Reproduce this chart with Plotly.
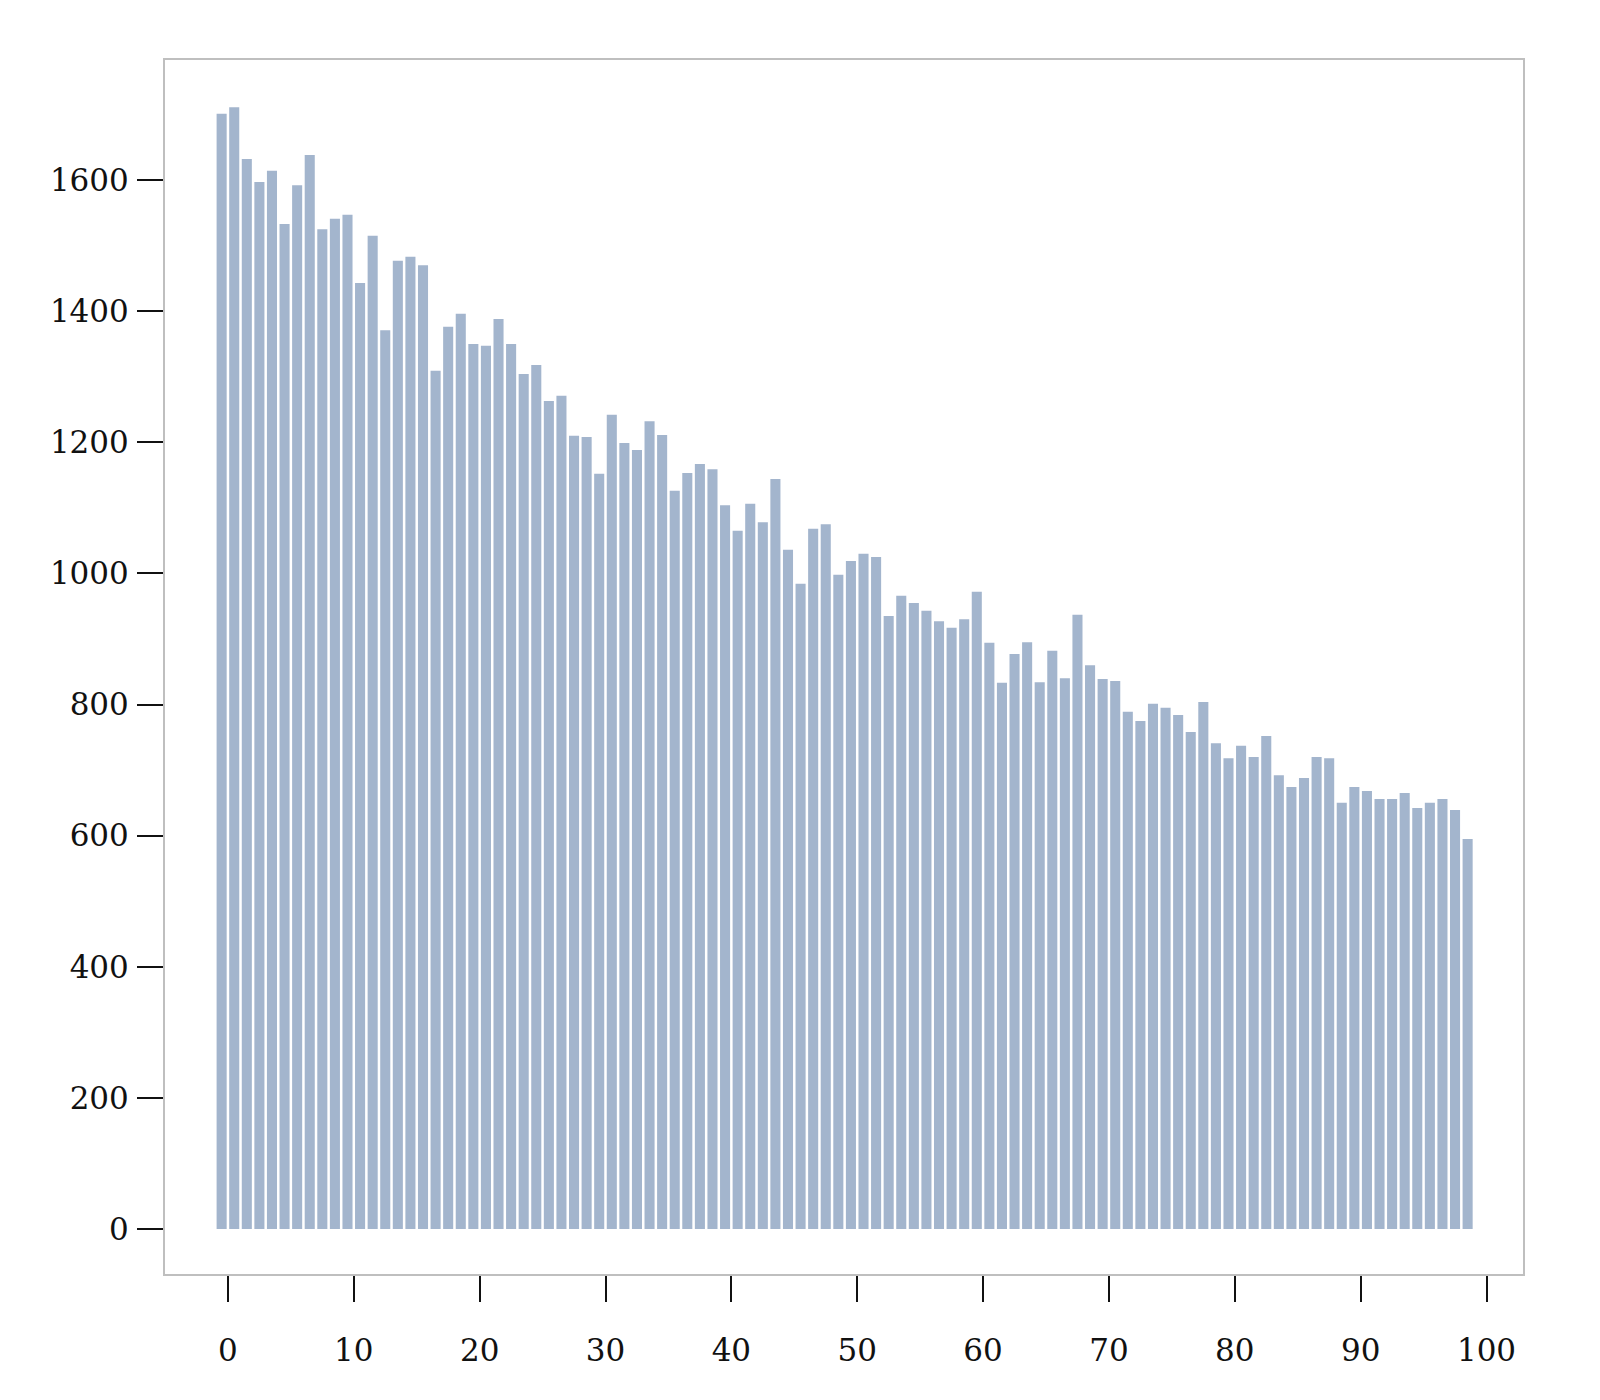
import plotly.graph_objects as go

values = [1701,1711,1632,1597,1614,1533,1592,1638,1525,1541,
          1547,1443,1515,1371,1477,1483,1470,1309,1376,1396,
          1350,1347,1388,1350,1304,1318,1263,1271,1210,1208,
          1152,1242,1199,1188,1232,1211,1126,1153,1167,1159,
          1104,1065,1106,1078,1144,1036,984,1068,1075,998,
          1019,1030,1025,935,966,955,943,927,917,930,
          972,894,833,877,895,834,882,840,937,860,
          839,836,789,775,801,795,784,758,804,741,
          718,737,720,752,692,674,688,720,718,650,
          674,668,656,656,665,642,650,656,639,595]
positions = list(range(len(values)))
xticks = list(range(0, 101, 10))
yticks = list(range(0, 1601, 200))

fig = go.Figure(go.Bar(x=positions, y=values, width=0.8, offset=-0.9,
                       marker=dict(color="#a3b5cd", line=dict(width=0))))
font = dict(family="DejaVu Serif", size=31, color="#111")
fig.update_layout(
    width=1600, height=1400, plot_bgcolor="white", paper_bgcolor="white",
    margin=dict(l=157, r=85, t=52, b=134), showlegend=False, font=font,
)
fig.update_xaxes(range=[-5.0, 102.9], tickvals=xticks, ticks="outside", ticklen=26,
                 tickwidth=2, tickcolor="#111", showgrid=False, zeroline=False,
                 showline=True, linecolor="#bfbfbf", linewidth=2, mirror=True,
                 ticklabelstandoff=22)
fig.update_yaxes(range=[-68.6, 1783], tickvals=yticks, ticks="outside", ticklen=26,
                 tickwidth=2, tickcolor="#111", showgrid=False, zeroline=False,
                 showline=True, linecolor="#bfbfbf", linewidth=2, mirror=True,
                 ticklabelstandoff=2)
fig.write_html("out.html")
